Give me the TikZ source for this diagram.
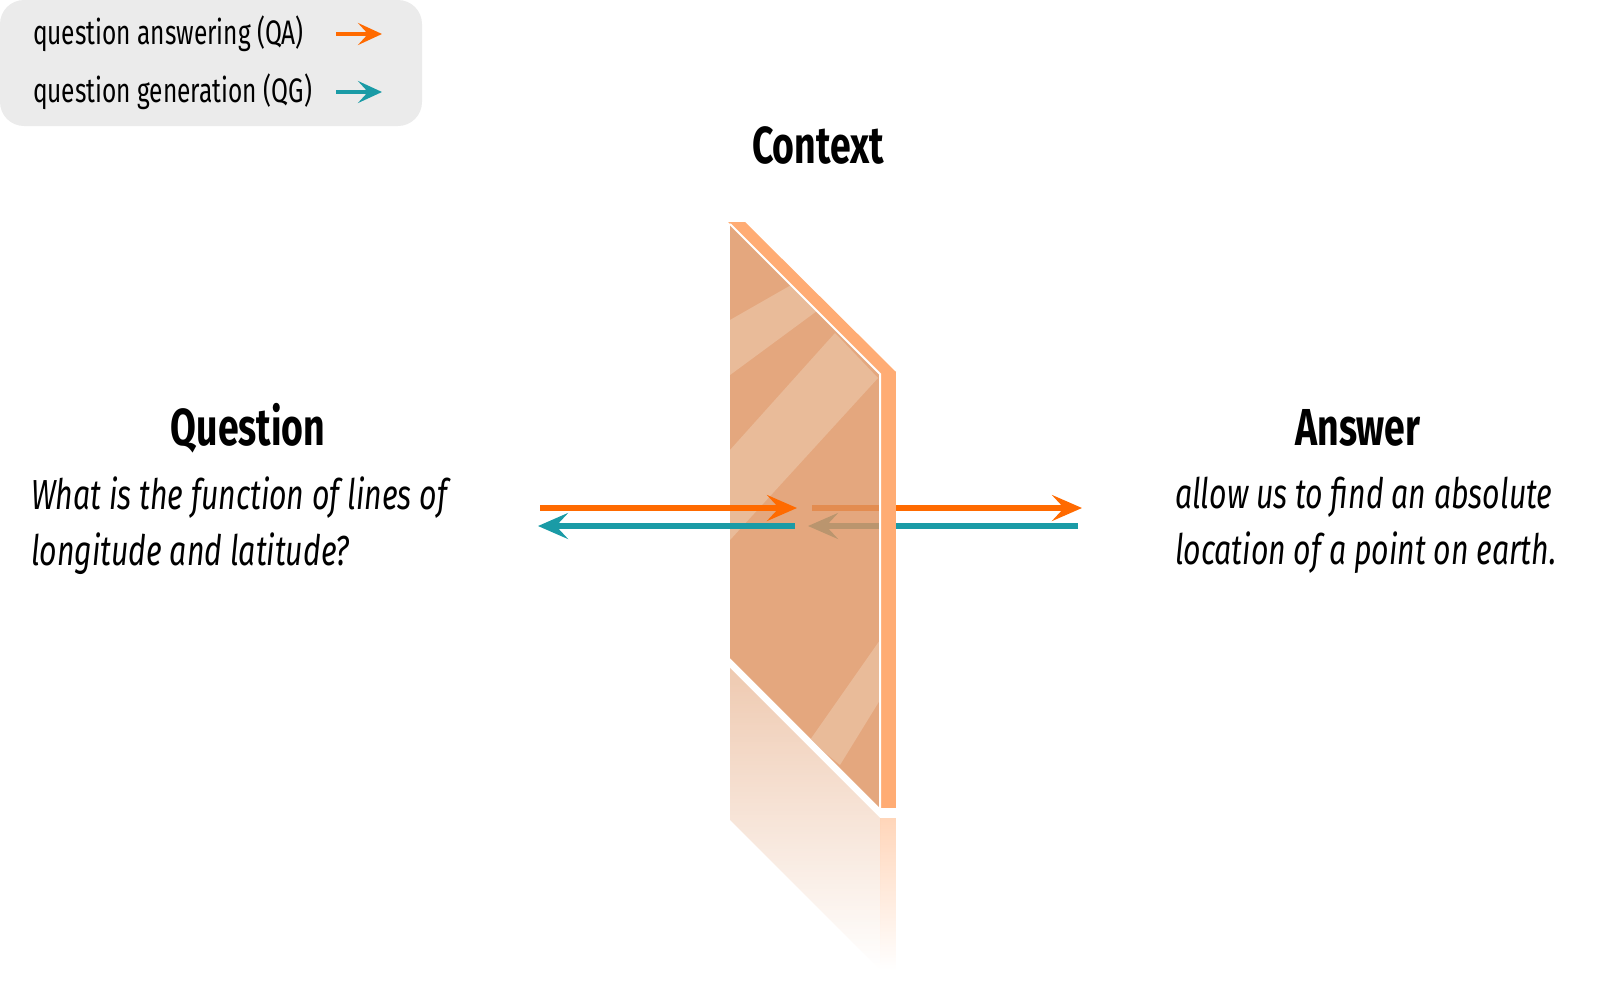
\documentclass[tikz,border=0pt]{standalone}
\usepackage{fontspec}
\setmainfont{Fira Sans}[FakeStretch=0.72]
\usetikzlibrary{arrows.meta,fadings}
\definecolor{qa}{HTML}{FF6A00}
\definecolor{qg}{HTML}{1A9BA6}
\definecolor{face}{HTML}{DE9462}
\definecolor{edge}{HTML}{FFAC74}
\definecolor{stripe}{HTML}{EBC0A0}
\definecolor{legbg}{HTML}{EBEBEB}
\tikzset{
  arr/.style={line width=2.8pt,-{Stealth[length=15pt,width=13pt,inset=6pt]}},
  title/.style={font=\fontsize{26}{30}\selectfont\bfseries},
  body/.style={font=\fontsize{21}{28}\selectfont\itshape,align=left,anchor=north west},
  leg/.style={font=\fontsize{17}{20}\selectfont,anchor=west}
}
\tikzfading[name=fadedown,top color=transparent!50,bottom color=transparent!100]
\begin{document}
\begin{tikzpicture}[x=0.5pt,y=-0.5pt]
\useasboundingbox (0,0) rectangle (1600,996);
% legend
\fill[legbg,rounded corners=12pt] (0,0) rectangle (422,126);
\node[leg] (l1) at (26,34) {question answering (QA)};
\node[leg] (l2) at (26,92) {question generation (QG)};
\coordinate (a1s) at (336,34); \coordinate (a1e) at (382,34);
\coordinate (a2s) at (336,92); \coordinate (a2e) at (382,92);
\draw[qa,line width=2.2pt,-{Stealth[length=12pt,width=11pt,inset=5pt]}] (a1s) -- (a1e);
\draw[qg,line width=2.2pt,-{Stealth[length=12pt,width=11pt,inset=5pt]}] (a2s) -- (a2e);
% titles
\node[title] (ctx) at (818,145) {Context};
\node[title] (q) at (248,428) {Question};
\node[title] (a) at (1358,428) {Answer};
\node[body] (qt) at (24,470) {What is the function of lines of\\longitude and latitude?};
\node[body] (at) at (1168,470) {allow us to find an absolute\\location of a point on earth.};
% right arrows (behind panel)
\coordinate (r1s) at (812,508); \coordinate (r1e) at (1082,508);
\coordinate (r2s) at (1078,526); \coordinate (r2e) at (808,526);
\draw[arr,qa] (r1s) -- (r1e);
\draw[arr,qg] (r2s) -- (r2e);
% reflection
\fill[face,path fading=fadedown] (730,668) -- (880,818) -- (880,970) -- (730,820) -- cycle;
\fill[edge,path fading=fadedown] (880,818) rectangle (896,970);
% panel
\fill[face,opacity=0.82] (730,222) -- (880,372) -- (880,808) -- (730,658) -- cycle;
\begin{scope}
\clip (730,222) -- (880,372) -- (880,808) -- (730,658) -- cycle;
\fill[stripe,opacity=0.8] (730,320) -- (800,280) -- (825,305) -- (730,375) -- cycle;
\fill[stripe,opacity=0.8] (730,450) -- (835,333) -- (878,378) -- (730,540) -- cycle;
\fill[stripe,opacity=0.8] (810,740) -- (880,640) -- (880,700) -- (840,765) -- cycle;
\end{scope}
\fill[edge] (728,222) -- (745,222) -- (896,372) -- (880,372) -- cycle;
\fill[edge] (880,372) rectangle (896,808);
\draw[white,line width=1pt] (730,224) -- (880,374) -- (880,808);
\draw[white,line width=1pt] (730,660) -- (880,810);
% left arrows (in front)
\coordinate (l1s) at (540,508); \coordinate (l1e) at (797,508);
\coordinate (l2s) at (795,526); \coordinate (l2e) at (538,526);
\draw[arr,qa] (l1s) -- (l1e);
\draw[arr,qg] (l2s) -- (l2e);
\end{tikzpicture}
\end{document}
